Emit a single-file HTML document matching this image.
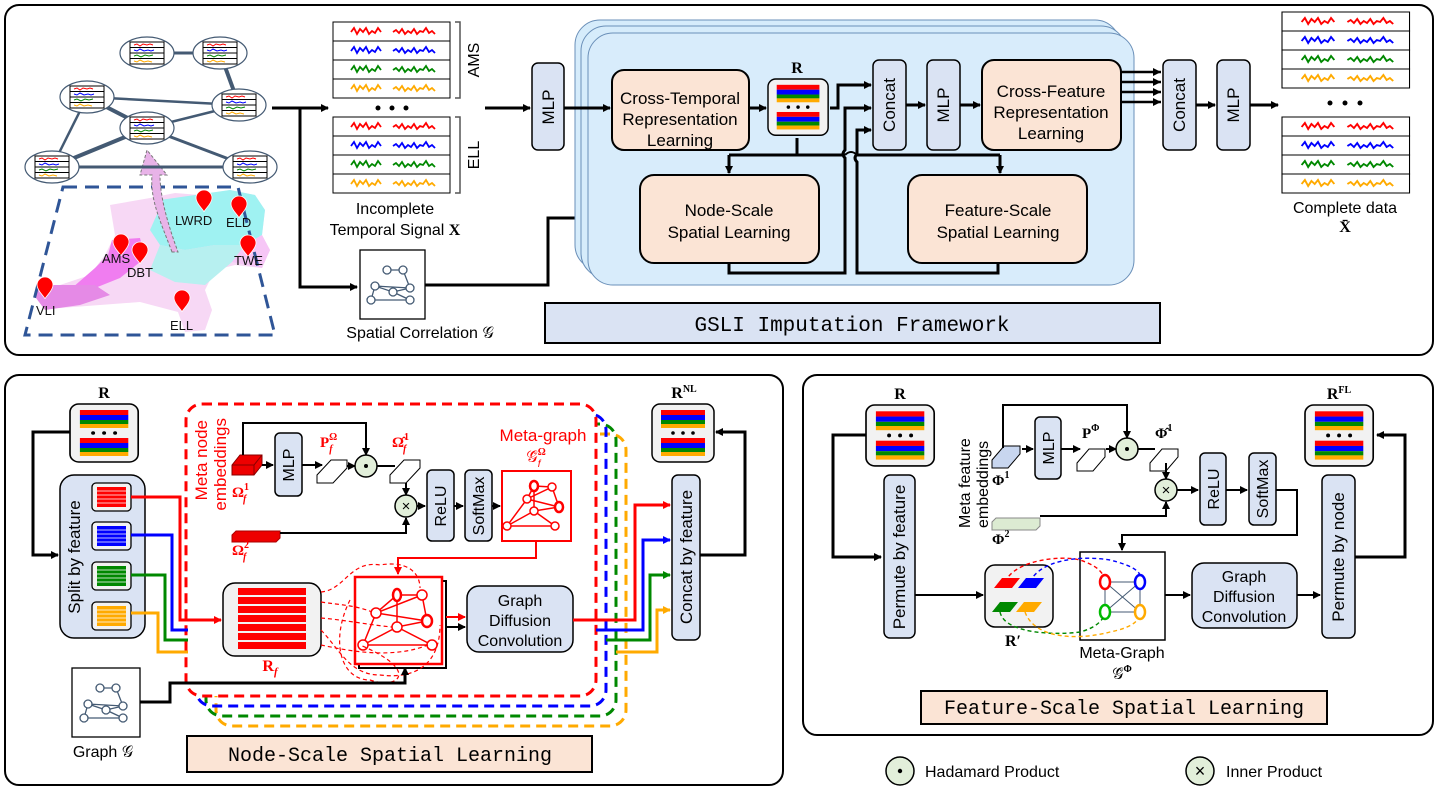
<!DOCTYPE html>
<html><head><meta charset="utf-8"><style>
html,body{margin:0;padding:0;background:#fff}
svg{display:block}
text{font-family:"Liberation Sans",sans-serif}
.mono{font-family:"Liberation Mono",monospace}
.serif{font-family:"Liberation Serif",serif;font-weight:bold}
</style></head><body>
<svg width="1440" height="806" viewBox="0 0 1440 806" xmlns="http://www.w3.org/2000/svg">
<defs>
<marker id="a" markerWidth="8" markerHeight="8" refX="7" refY="4" orient="auto" markerUnits="userSpaceOnUse"><path d="M0,0 L8,4 L0,8z" fill="#000"/></marker>
<marker id="ar" markerWidth="8" markerHeight="8" refX="7" refY="4" orient="auto" markerUnits="userSpaceOnUse"><path d="M0,0 L8,4 L0,8z" fill="#f00"/></marker>
<path id="sq" d="M0,6 l3,-4 l3,6 l3,-5 l3,3 l3,-4 l3,6 l3,-3 l3,2 l3,-5 l3,4 m12,0 l3,-2 l3,3 l3,-4 l3,5 l3,-3 l3,2 l3,-4 l3,5 l3,-3 l3,1 l3,-4 l3,5 l3,-2 l3,3" fill="none" stroke-width="1.8"/>
<g id="ricon">
<rect x="0" y="0" width="62" height="58" rx="8" fill="#f2f2f2" stroke="#000" stroke-width="1.5"/>
<rect x="9" y="6" width="44" height="5" fill="#f00"/><rect x="9" y="11" width="44" height="5" fill="#00f"/><rect x="9" y="16" width="44" height="4" fill="#080"/><rect x="9" y="20" width="44" height="4" fill="#fa0"/>
<circle cx="21" cy="29" r="1.8"/><circle cx="31" cy="29" r="1.8"/><circle cx="41" cy="29" r="1.8"/>
<rect x="9" y="34" width="44" height="5" fill="#f00"/><rect x="9" y="39" width="44" height="5" fill="#00f"/><rect x="9" y="44" width="44" height="4" fill="#080"/><rect x="9" y="48" width="44" height="4" fill="#fa0"/>
</g>
<g id="sig">
<rect x="0" y="0" width="117" height="19" fill="#fff" stroke="#000"/><use href="#sq" x="18" y="4" stroke="#f00"/>
<rect x="0" y="19" width="117" height="19" fill="#fff" stroke="#000"/><use href="#sq" x="18" y="23" stroke="#00f"/>
<rect x="0" y="38" width="117" height="19" fill="#fff" stroke="#000"/><use href="#sq" x="18" y="42" stroke="#080"/>
<rect x="0" y="57" width="117" height="19" fill="#fff" stroke="#000"/><use href="#sq" x="18" y="61" stroke="#fa0"/>
</g>
<g id="gico" fill="#fff" stroke="#445a73" stroke-width="1.3">
<path d="M22,12 L38,12 L45,30 M10,28 L45,30 M10,28 L28,34 L45,30 M10,28 L6,42 L45,42 M28,34 L45,42 M10,28 L28,34" fill="none"/>
<circle cx="22" cy="12" r="4"/><circle cx="38" cy="12" r="4"/><circle cx="10" cy="28" r="4"/><circle cx="45" cy="30" r="4"/><circle cx="28" cy="34" r="4"/><circle cx="6" cy="42" r="4"/><circle cx="45" cy="42" r="4"/>
</g>
<g id="mini">
<ellipse cx="0" cy="0" rx="27" ry="16" fill="#fff" stroke="#445a73" stroke-width="1.2"/>
<rect x="-17" y="-11" width="34" height="22" fill="#fff" stroke="#000"/>
<path d="M-17,-5.5h34M-17,0h34M-17,5.5h34" stroke="#000"/>
<path d="M-13,-8 l3,-1 l3,2 l3,-2 l4,1 l3,-1 l3,1" stroke="#f00" fill="none"/>
<path d="M-13,-3 l3,1 l3,-2 l4,2 l4,-1 l3,1 l3,-1" stroke="#00f" fill="none"/>
<path d="M-13,3 l3,-1 l4,2 l4,-2 l4,1 l4,-1" stroke="#080" fill="none"/>
<path d="M-13,8 l3,1 l3,-2 l4,2 l4,-1 l4,1" stroke="#fa0" fill="none"/>
</g>
</defs>

<!-- ================= TOP PANEL ================= -->
<rect x="5" y="5" width="1428" height="350" rx="14" fill="#fff" stroke="#000" stroke-width="2"/>

<!-- map -->
<path d="M110,205 L150,198 L175,193 L200,195 L230,190 L255,195 L265,210 L262,235 L270,250 L262,268 L235,265 L215,270 L205,290 L212,310 L205,330 L185,332 L178,312 L140,302 L100,305 L60,308 L40,300 L60,285 L90,275 L105,255 L115,235 Z" fill="#f7d8f5"/>
<path d="M160,200 L230,190 L255,195 L265,210 L262,235 L245,245 L215,245 L185,250 L160,245 L150,230 L158,212Z" fill="#9ff2f2"/>
<path d="M160,245 L185,250 L215,245 L245,245 L232,262 L205,285 L175,282 L150,270Z" fill="#b7f0f0"/>
<path d="M112,240 L140,238 L145,258 L120,278 L95,288 L72,288 L95,268 L108,255Z" fill="#f07df0"/>
<path d="M38,285 L95,285 L110,295 L80,305 L45,310 L36,298Z" fill="#e58ae6"/>
<path d="M245,245 L262,235 L270,250 L262,268 L232,262Z" fill="#f6c6f6"/>
<path d="M63,187 L238,187 L275,335 L25,335 Z" fill="none" stroke="#2f5597" stroke-width="3" stroke-dasharray="14,8"/>
<path d="M172,252 C160,220 150,200 152,175 L140,175 L147,150 L167,175 L160,175 C160,200 170,230 178,252Z" fill="#e8b3e8" stroke="#777" stroke-dasharray="3,2"/>
<g fill="#f00" stroke="#fff" stroke-width="0.8">
<path d="M196,198 a8,8 0 1,1 16,0 c0,6 -8,12 -8,14 c0,-2 -8,-8 -8,-14z"/>
<path d="M231,204 a8,8 0 1,1 16,0 c0,6 -8,12 -8,14 c0,-2 -8,-8 -8,-14z"/>
<path d="M113,242 a8,8 0 1,1 16,0 c0,6 -8,12 -8,14 c0,-2 -8,-8 -8,-14z"/>
<path d="M132,250 a8,8 0 1,1 16,0 c0,6 -8,12 -8,14 c0,-2 -8,-8 -8,-14z"/>
<path d="M240,243 a8,8 0 1,1 16,0 c0,6 -8,12 -8,14 c0,-2 -8,-8 -8,-14z"/>
<path d="M37,285 a8,8 0 1,1 16,0 c0,6 -8,12 -8,14 c0,-2 -8,-8 -8,-14z"/>
<path d="M174,298 a8,8 0 1,1 16,0 c0,6 -8,12 -8,14 c0,-2 -8,-8 -8,-14z"/>
</g>
<g font-size="13" fill="#111">
<text x="175" y="225">LWRD</text><text x="226" y="227">ELD</text><text x="102" y="263">AMS</text><text x="127" y="277">DBT</text><text x="234" y="265">TWE</text><text x="36" y="315">VLI</text><text x="170" y="330">ELL</text>
</g>
<g stroke="#445a73" fill="none">
<path d="M147,53 L220,53" stroke-width="3"/>
<path d="M220,53 L239,105" stroke-width="4"/>
<path d="M87,97 L239,105" stroke-width="2.5"/>
<path d="M87,97 L147,128" stroke-width="4"/>
<path d="M147,128 L239,105" stroke-width="2.5"/>
<path d="M87,97 L52,167" stroke-width="2.5"/>
<path d="M147,128 L52,167" stroke-width="4"/>
<path d="M147,128 L250,167" stroke-width="3"/>
<path d="M52,167 L250,167" stroke-width="3"/>
</g>
<use href="#mini" x="147" y="53"/><use href="#mini" x="220" y="53"/><use href="#mini" x="87" y="97"/><use href="#mini" x="239" y="105"/><use href="#mini" x="147" y="128"/><use href="#mini" x="52" y="167"/><use href="#mini" x="250" y="167"/>

<g stroke="#000" stroke-width="3" fill="none">
<path d="M272,108 L328,108" marker-end="url(#a)"/>
<path d="M300,108 L300,287 L357,287" marker-end="url(#a)"/>
</g>
<use href="#sig" x="333" y="22"/>
<circle cx="378" cy="108" r="2.5"/><circle cx="392" cy="108" r="2.5"/><circle cx="406" cy="108" r="2.5"/>
<use href="#sig" x="333" y="117"/>
<path d="M455,22 h5 v76 h-5 M455,117 h5 v76 h-5" stroke="#555" fill="none" stroke-width="1.5"/>
<text font-size="16" transform="translate(479,60) rotate(-90)" text-anchor="middle">AMS</text>
<text font-size="16" transform="translate(479,155) rotate(-90)" text-anchor="middle">ELL</text>
<text x="395" y="214" font-size="16" text-anchor="middle">Incomplete</text>
<text x="395" y="235" font-size="16" text-anchor="middle">Temporal Signal <tspan class="serif">X</tspan></text>
<rect x="360" y="250" width="65" height="69" fill="#fff" stroke="#000" stroke-width="1.3"/>
<use href="#gico" x="365" y="258"/>
<text x="420" y="338" font-size="16" text-anchor="middle">Spatial Correlation 𝒢</text>
<path d="M425,285 L548,285 L548,218 L638,218" stroke="#000" stroke-width="3" fill="none" marker-end="url(#a)"/>
<path d="M485,108 L530,108" stroke="#000" stroke-width="3" marker-end="url(#a)"/>
<rect x="532" y="63" width="32" height="87" rx="6" fill="#dae3f3" stroke="#000" stroke-width="1.5"/>
<text font-size="17" transform="translate(554,107) rotate(-90)" text-anchor="middle">MLP</text>

<rect x="575" y="20" width="545" height="250" rx="25" fill="#d6ecfb" stroke="#6a8fb8"/>
<rect x="581" y="26" width="545" height="252" rx="25" fill="#d6ecfb" stroke="#6a8fb8"/>
<rect x="588" y="33" width="546" height="252" rx="25" fill="#d8ecfb" stroke="#6a8fb8"/>
<path d="M564,108 L610,108" stroke="#000" stroke-width="3" marker-end="url(#a)"/>
<rect x="612" y="70" width="137" height="80" rx="12" fill="#fbe4d5" stroke="#000" stroke-width="2"/>
<text x="680" y="104" font-size="17" text-anchor="middle">Cross-Temporal</text>
<text x="680" y="125" font-size="17" text-anchor="middle">Representation</text>
<text x="680" y="146" font-size="17" text-anchor="middle">Learning</text>
<path d="M749,108 L766,108" stroke="#000" stroke-width="3" marker-end="url(#a)"/>
<use href="#ricon" x="768" y="79" transform="translate(768,79) scale(0.97) translate(-768,-79)"/>
<text x="797" y="73" font-size="16" class="serif" text-anchor="middle">R</text>
<rect x="873" y="60" width="33" height="90" rx="6" fill="#dae3f3" stroke="#000" stroke-width="1.5"/>
<text font-size="17" transform="translate(895,105) rotate(-90)" text-anchor="middle">Concat</text>
<rect x="927" y="60" width="33" height="90" rx="6" fill="#dae3f3" stroke="#000" stroke-width="1.5"/>
<text font-size="17" transform="translate(949,105) rotate(-90)" text-anchor="middle">MLP</text>
<rect x="982" y="60" width="139" height="90" rx="12" fill="#fbe4d5" stroke="#000" stroke-width="2"/>
<text x="1051" y="97" font-size="17" text-anchor="middle">Cross-Feature</text>
<text x="1051" y="118" font-size="17" text-anchor="middle">Representation</text>
<text x="1051" y="139" font-size="17" text-anchor="middle">Learning</text>
<rect x="640" y="175" width="179" height="88" rx="14" fill="#fbe4d5" stroke="#000" stroke-width="2"/>
<text x="729" y="216" font-size="17" text-anchor="middle">Node-Scale</text>
<text x="729" y="238" font-size="17" text-anchor="middle">Spatial Learning</text>
<rect x="908" y="175" width="179" height="88" rx="14" fill="#fbe4d5" stroke="#000" stroke-width="2"/>
<text x="998" y="216" font-size="17" text-anchor="middle">Feature-Scale</text>
<text x="998" y="238" font-size="17" text-anchor="middle">Spatial Learning</text>
<g stroke="#000" stroke-width="3" fill="none">
<path d="M830,108 L838,108 L838,85 L871,85" marker-end="url(#a)"/>
<path d="M797,138 L797,155"/>
<path d="M729,155 L845,155 M857,155 L1000,155"/>
<path d="M845,155 q6,-6 12,0" stroke-width="2"/>
<path d="M729,155 L729,173" marker-end="url(#a)"/>
<path d="M1000,155 L1000,173" marker-end="url(#a)"/>
<path d="M729,263 L729,273 L845,273 L845,158 q-4,-4 0,-8 L845,108 L871,108" marker-end="url(#a)"/>
<path d="M998,263 L998,273 L857,273 L857,162 q-4,-4 0,-8 L857,130 L871,130" marker-end="url(#a)"/>
<path d="M906,105 L925,105" marker-end="url(#a)"/>
<path d="M960,105 L980,105" marker-end="url(#a)"/>
<path d="M1121,72 L1161,72 M1121,82 L1161,82 M1121,92 L1161,92 M1121,102 L1161,102" stroke-width="2.5"/>
</g>
<path d="M1153,68 l8,4 l-8,4z M1153,78 l8,4 l-8,4z M1153,88 l8,4 l-8,4z M1153,98 l8,4 l-8,4z"/>
<rect x="1163" y="60" width="33" height="90" rx="6" fill="#dae3f3" stroke="#000" stroke-width="1.5"/>
<text font-size="17" transform="translate(1185,105) rotate(-90)" text-anchor="middle">Concat</text>
<rect x="1217" y="60" width="33" height="90" rx="6" fill="#dae3f3" stroke="#000" stroke-width="1.5"/>
<text font-size="17" transform="translate(1239,105) rotate(-90)" text-anchor="middle">MLP</text>
<path d="M1196,105 L1215,105" stroke="#000" stroke-width="3" marker-end="url(#a)"/>
<path d="M1250,105 L1278,105" stroke="#000" stroke-width="3" marker-end="url(#a)"/>
<g transform="translate(1282,12) scale(1.09,1)"><use href="#sig"/></g>
<circle cx="1330" cy="103" r="2.5"/><circle cx="1345" cy="103" r="2.5"/><circle cx="1360" cy="103" r="2.5"/>
<g transform="translate(1282,117) scale(1.09,1)"><use href="#sig"/></g>
<text x="1345" y="213" font-size="16" text-anchor="middle">Complete data</text>
<text x="1345" y="232" font-size="16" class="serif" text-anchor="middle">X̄</text>
<rect x="545" y="303" width="615" height="40" fill="#dae3f3" stroke="#000" stroke-width="2"/>
<text x="852" y="331" font-size="21" class="mono" text-anchor="middle">GSLI Imputation Framework</text>

<!-- ================= BOTTOM LEFT ================= -->
<rect x="5" y="375" width="778" height="410" rx="14" fill="#fff" stroke="#000" stroke-width="2"/>
<use href="#ricon" x="70" y="404" transform="translate(70,404) scale(1.1,1) translate(-70,-404)"/>
<text x="104" y="398" font-size="16" class="serif" text-anchor="middle">R</text>
<path d="M70,432 L33,432 L33,555 L58,555" stroke="#000" stroke-width="3" fill="none" marker-end="url(#a)"/>
<rect x="60" y="475" width="85" height="163" rx="14" fill="#dae3f3" stroke="#000" stroke-width="1.5"/>
<text font-size="17" transform="translate(80,557) rotate(-90)" text-anchor="middle">Split by feature</text>
<g stroke="#000" stroke-width="1.3" fill="#f2f2f2">
<rect x="92" y="483" width="39" height="28" rx="4"/><rect x="92" y="522" width="39" height="28" rx="4"/><rect x="92" y="562" width="39" height="28" rx="4"/><rect x="92" y="602" width="39" height="28" rx="4"/>
</g>
<rect x="97" y="487" width="29" height="20" fill="#f00"/><rect x="97" y="526" width="29" height="20" fill="#00f"/><rect x="97" y="566" width="29" height="20" fill="#080"/><rect x="97" y="606" width="29" height="20" fill="#fa0"/>
<g stroke="#fff" stroke-width="0.8"><path d="M97,491h29M97,495h29M97,499h29M97,503h29M97,530h29M97,534h29M97,538h29M97,542h29M97,570h29M97,574h29M97,578h29M97,582h29M97,610h29M97,614h29M97,618h29M97,622h29"/></g>
<rect x="216" y="434" width="410" height="292" rx="16" fill="none" stroke="#fa0" stroke-width="3" stroke-dasharray="10,6"/>
<rect x="206" y="424" width="410" height="292" rx="16" fill="none" stroke="#080" stroke-width="3" stroke-dasharray="10,6"/>
<rect x="196" y="414" width="410" height="292" rx="16" fill="none" stroke="#00f" stroke-width="3" stroke-dasharray="10,6"/>
<rect x="186" y="404" width="410" height="292" rx="16" fill="#fff" stroke="#f00" stroke-width="3" stroke-dasharray="10,6"/>
<g fill="none" stroke-width="3">
<path d="M131,497 L180,497 L180,620 L221,620" stroke="#f00" marker-end="url(#ar)"/>
<path d="M131,535 L172,535 L172,630 L188,630" stroke="#00f"/>
<path d="M131,575 L165,575 L165,640 L188,640" stroke="#080"/>
<path d="M131,613 L158,613 L158,652 L188,652" stroke="#fa0"/>
</g>
<text font-size="17" fill="#f00" transform="translate(207,420) rotate(-90)" text-anchor="end">Meta node</text>
<text font-size="17" fill="#f00" transform="translate(226,418) rotate(-90)" text-anchor="end">embeddings</text>
<path d="M232,465 l8,-10 h22 v10 l-8,10 h-22z" fill="#e00" stroke="#800"/>
<path d="M232,465 h22 l8,-10 M254,465 v10" stroke="#800" fill="none"/>
<text x="232" y="497" font-size="15" class="serif" fill="#f00">Ω<tspan font-size="10" dy="-7">1</tspan><tspan font-size="10" font-style="italic" dx="-6" dy="12">f</tspan></text>
<path d="M232,535 l4,-4 h44 v7 l-4,4 h-44z" fill="#e00" stroke="#a00"/>
<text x="232" y="555" font-size="15" class="serif" fill="#f00">Ω<tspan font-size="10" dy="-7">2</tspan><tspan font-size="10" font-style="italic" dx="-6" dy="12">f</tspan></text>
<rect x="275" y="433" width="27" height="63" rx="5" fill="#dae3f3" stroke="#000" stroke-width="1.5"/>
<text font-size="16" transform="translate(294,465) rotate(-90)" text-anchor="middle">MLP</text>
<path d="M317,475 l14,-15 h16 v8 l-14,15 h-16z" fill="#fff" stroke="#000"/>
<path d="M390,475 l14,-15 h16 v8 l-14,15 h-16z" fill="#fff" stroke="#000"/>
<text x="320" y="447" font-size="15" class="serif" fill="#f00">P<tspan font-size="10" dy="-7">Ω</tspan><tspan font-size="10" font-style="italic" dx="-8" dy="12">f</tspan></text>
<text x="392" y="447" font-size="15" class="serif" fill="#f00">Ω̂<tspan font-size="10" dy="-7">1</tspan><tspan font-size="10" font-style="italic" dx="-6" dy="12">f</tspan></text>
<g stroke="#000" stroke-width="2" fill="none">
<path d="M243,455 L243,423 L366,423 L366,455" marker-end="url(#a)"/>
<path d="M262,465 L273,465" marker-end="url(#a)"/>
<path d="M302,465 L322,465" marker-end="url(#a)"/>
<path d="M347,466 L355,466" marker-end="url(#a)"/>
<path d="M377,466 L395,466"/>
<path d="M406,483 L406,495" marker-end="url(#a)"/>
<path d="M280,533 L406,533 L406,518" marker-end="url(#a)"/>
<path d="M417,506 L425,506" marker-end="url(#a)"/>
<path d="M454,506 L463,506" marker-end="url(#a)"/>
<path d="M492,506 L500,506" marker-end="url(#a)"/>
</g>
<circle cx="366" cy="466" r="11" fill="#e2efda" stroke="#000" stroke-width="1.5"/><circle cx="366" cy="466" r="2"/>
<circle cx="406" cy="506" r="11" fill="#e2efda" stroke="#000" stroke-width="1.5"/><text x="406" y="511" font-size="15" text-anchor="middle">×</text>
<rect x="427" y="470" width="27" height="71" rx="5" fill="#dae3f3" stroke="#000" stroke-width="1.5"/>
<text font-size="16" transform="translate(446,506) rotate(-90)" text-anchor="middle">ReLU</text>
<rect x="465" y="470" width="27" height="71" rx="5" fill="#dae3f3" stroke="#000" stroke-width="1.5"/>
<text font-size="16" transform="translate(484,506) rotate(-90)" text-anchor="middle">SoftMax</text>
<rect x="502" y="471" width="69" height="70" fill="#fff" stroke="#f00" stroke-width="2"/>
<g stroke="#f00" stroke-width="1.5" fill="#fff">
<path d="M534,486 L552,487 L527,499 L507,526 L555,526 M534,486 L534,511 L559,507 L552,487 M527,499 L559,507 M534,511 L555,526 M534,486 L527,499 M507,526 L534,511" fill="none"/>
<ellipse cx="534" cy="486" rx="4" ry="5" stroke-width="2.5"/><circle cx="552" cy="487" r="4"/><circle cx="527" cy="499" r="4"/><ellipse cx="559" cy="507" rx="4" ry="5" stroke-width="2.5"/><circle cx="534" cy="511" r="4"/><circle cx="507" cy="526" r="4"/><circle cx="555" cy="526" r="4"/>
</g>
<text x="543" y="441" font-size="17" fill="#f00" text-anchor="middle">Meta-graph</text>
<text x="536" y="462" font-size="16" fill="#f00" text-anchor="middle">𝒢̇<tspan font-size="10" dy="-7" class="serif">Ω</tspan><tspan font-size="10" font-style="italic" dx="-8" dy="12">f</tspan></text>
<path d="M536,541 L536,558 L398,558 L398,574" stroke="#f00" stroke-width="2" fill="none" marker-end="url(#ar)"/>
<rect x="223" y="583" width="98" height="73" rx="12" fill="#f2f2f2" stroke="#000" stroke-width="1.5"/>
<g fill="#f00"><rect x="238" y="588" width="68" height="7"/><rect x="238" y="597" width="68" height="7"/><rect x="238" y="606" width="68" height="7"/><rect x="238" y="615" width="68" height="7"/><rect x="238" y="624" width="68" height="7"/><rect x="238" y="633" width="68" height="7"/><rect x="238" y="642" width="68" height="7"/></g>
<text x="270" y="671" font-size="16" class="serif" fill="#f00" text-anchor="middle">R<tspan font-size="11" font-style="italic" dy="4">f</tspan></text>
<rect x="359" y="581" width="87" height="87" fill="none" stroke="#000" stroke-width="2"/>
<rect x="355" y="577" width="87" height="87" fill="#fff" stroke="#f00" stroke-width="2.5"/>
<g stroke="#f00" stroke-width="1.5" fill="#fff">
<path d="M397,595 L422,595 L376,613 L363,645 L432,645 M397,595 L397,627 L427,621 L422,595 M376,613 L427,621 M397,627 L432,645 M397,595 L376,613 M363,645 L397,627" fill="none"/>
<ellipse cx="397" cy="595" rx="4" ry="6" stroke-width="2.5"/><circle cx="422" cy="595" r="5"/><circle cx="376" cy="613" r="5"/><ellipse cx="427" cy="621" rx="5" ry="6" stroke-width="2.5"/><circle cx="397" cy="627" r="5"/><circle cx="363" cy="645" r="5"/><circle cx="432" cy="645" r="5"/>
</g>
<g stroke="#f00" stroke-width="1.2" fill="none" stroke-dasharray="4,3">
<path d="M321,592 C345,590 350,560 380,565 C410,560 420,575 420,588"/>
<path d="M321,602 C340,605 355,605 372,612"/>
<path d="M321,618 C345,620 370,625 392,627"/>
<path d="M321,630 C340,650 350,675 380,675 C420,680 440,660 440,625"/>
<path d="M321,645 C345,650 390,660 428,645"/>
<path d="M350,600 C330,640 340,680 370,680 C400,690 420,670 360,645"/>
</g>
<rect x="467" y="586" width="106" height="66" rx="12" fill="#dae3f3" stroke="#000" stroke-width="1.5"/>
<text x="520" y="606" font-size="16" text-anchor="middle">Graph</text>
<text x="520" y="626" font-size="16" text-anchor="middle">Diffusion</text>
<text x="520" y="646" font-size="16" text-anchor="middle">Convolution</text>
<path d="M446,617 L465,617" stroke="#f00" stroke-width="2" marker-end="url(#ar)"/>
<path d="M446,627 L465,627" stroke="#000" stroke-width="2" marker-end="url(#a)"/>
<rect x="72" y="668" width="68" height="69" fill="#fff" stroke="#000" stroke-width="1.3"/>
<use href="#gico" x="78" y="676"/>
<text x="103" y="757" font-size="16" text-anchor="middle">Graph 𝒢</text>
<path d="M140,702 L170,702 L170,683 L405,683 L405,668" stroke="#000" stroke-width="3" fill="none" marker-end="url(#a)"/>
<g fill="none" stroke-width="3">
<path d="M573,620 L635,620 L635,505 L670,505" stroke="#f00" marker-end="url(#ar)"/>
<path d="M596,630 L643,630 L643,540 L670,540" stroke="#00f"/>
<path d="M606,640 L650,640 L650,575 L670,575" stroke="#080"/>
<path d="M616,652 L657,652 L657,610 L670,610" stroke="#fa0"/>
</g>
<path d="M663,536 l8,4 l-8,4z" fill="#00f"/><path d="M663,571 l8,4 l-8,4z" fill="#080"/><path d="M663,606 l8,4 l-8,4z" fill="#fa0"/>
<rect x="672" y="475" width="28" height="165" rx="6" fill="#dae3f3" stroke="#000" stroke-width="1.5"/>
<text font-size="17" transform="translate(692,557) rotate(-90)" text-anchor="middle">Concat  by feature</text>
<use href="#ricon" x="652" y="404"/>
<text x="684" y="398" font-size="16" class="serif" text-anchor="middle">R<tspan font-size="10" dy="-6">NL</tspan></text>
<path d="M700,555 L745,555 L745,432 L716,432" stroke="#000" stroke-width="3" fill="none" marker-end="url(#a)"/>
<rect x="187" y="736" width="405" height="36" fill="#fbe4d5" stroke="#000" stroke-width="2"/>
<text x="390" y="761" font-size="20" class="mono" text-anchor="middle">Node-Scale Spatial Learning</text>

<!-- ================= BOTTOM RIGHT ================= -->
<rect x="803" y="375" width="630" height="360" rx="14" fill="#fff" stroke="#000" stroke-width="2"/>
<use href="#ricon" x="866" y="405" transform="translate(866,405) scale(1.1,1.05) translate(-866,-405)"/>
<text x="900" y="399" font-size="16" class="serif" text-anchor="middle">R</text>
<path d="M866,435 L833,435 L833,557 L881,557" stroke="#000" stroke-width="3" fill="none" marker-end="url(#a)"/>
<rect x="884" y="475" width="31" height="163" rx="6" fill="#dae3f3" stroke="#000" stroke-width="1.5"/>
<text font-size="17" transform="translate(905,557) rotate(-90)" text-anchor="middle">Permute  by feature</text>
<text font-size="16" transform="translate(970,528) rotate(-90)" text-anchor="start">Meta feature</text>
<text font-size="16" transform="translate(988,528) rotate(-90)" text-anchor="start">embeddings</text>
<path d="M992,460 l12,-14 h16 v8 l-12,14 h-16z" fill="#c8d6ef" stroke="#000"/>
<text x="992" y="485" font-size="15" class="serif">Φ<tspan font-size="10" dy="-7">1</tspan></text>
<path d="M992,522 l4,-4 h44 v8 l-4,4 h-44z" fill="#dcebd2" stroke="#888"/>
<text x="992" y="544" font-size="15" class="serif">Φ<tspan font-size="10" dy="-7">2</tspan></text>
<rect x="1035" y="417" width="26" height="62" rx="5" fill="#dae3f3" stroke="#000" stroke-width="1.5"/>
<text font-size="16" transform="translate(1054,448) rotate(-90)" text-anchor="middle">MLP</text>
<path d="M1077,463 l12,-14 h16 v8 l-12,14 h-16z" fill="#fff" stroke="#000"/>
<path d="M1150,463 l12,-14 h16 v8 l-12,14 h-16z" fill="#fff" stroke="#000"/>
<text x="1082" y="438" font-size="15" class="serif">P<tspan font-size="10" dy="-7">Φ</tspan></text>
<text x="1155" y="438" font-size="15" class="serif">Φ̂<tspan font-size="10" dy="-7">1</tspan></text>
<g stroke="#000" stroke-width="2" fill="none">
<path d="M1003,448 L1003,405 L1127,405 L1127,438" marker-end="url(#a)"/>
<path d="M1022,449 L1033,449" marker-end="url(#a)"/>
<path d="M1061,449 L1080,449" marker-end="url(#a)"/>
<path d="M1106,449 L1116,449" marker-end="url(#a)"/>
<path d="M1138,449 L1155,449"/>
<path d="M1166,463 L1166,479" marker-end="url(#a)"/>
<path d="M1040,516 L1166,516 L1166,502" marker-end="url(#a)"/>
<path d="M1177,490 L1198,490" marker-end="url(#a)"/>
<path d="M1226,490 L1247,490" marker-end="url(#a)"/>
<path d="M1276,490 L1297,490 L1297,535 L1122,535 L1122,550" marker-end="url(#a)"/>
<path d="M915,595 L983,595" marker-end="url(#a)"/>
<path d="M1165,595 L1190,595" marker-end="url(#a)"/>
<path d="M1297,595 L1320,595" marker-end="url(#a)"/>
</g>
<circle cx="1127" cy="449" r="11" fill="#e2efda" stroke="#000" stroke-width="1.5"/><circle cx="1127" cy="449" r="2"/>
<circle cx="1166" cy="490" r="11" fill="#e2efda" stroke="#000" stroke-width="1.5"/><text x="1166" y="495" font-size="15" text-anchor="middle">×</text>
<rect x="1200" y="453" width="26" height="72" rx="5" fill="#dae3f3" stroke="#000" stroke-width="1.5"/>
<text font-size="16" transform="translate(1219,489) rotate(-90)" text-anchor="middle">ReLU</text>
<rect x="1249" y="453" width="27" height="72" rx="5" fill="#dae3f3" stroke="#000" stroke-width="1.5"/>
<text font-size="16" transform="translate(1268,489) rotate(-90)" text-anchor="middle">SoftMax</text>
<rect x="985" y="565" width="68" height="62" rx="10" fill="#f2f2f2" stroke="#000" stroke-width="1.5"/>
<path d="M994,588 l8,-10 h18 l-8,10z" fill="#f00"/><path d="M1018,588 l8,-10 h18 l-8,10z" fill="#00f"/>
<path d="M992,612 l8,-10 h18 l-8,10z" fill="#080"/><path d="M1016,612 l8,-10 h18 l-8,10z" fill="#fa0"/>
<text x="1013" y="646" font-size="16" class="serif" text-anchor="middle">R′</text>
<rect x="1080" y="552" width="85" height="88" fill="#fff" stroke="#000" stroke-width="1.5"/>
<path d="M1105,582 L1140,582 L1140,612 L1105,612Z M1105,582 L1140,612 M1140,582 L1105,612" stroke="#445a73" fill="none"/>
<ellipse cx="1105" cy="582" rx="5" ry="7" fill="#fff" stroke="#f00" stroke-width="2.5"/>
<ellipse cx="1140" cy="582" rx="5" ry="7" fill="#fff" stroke="#00f" stroke-width="2.5"/>
<ellipse cx="1105" cy="612" rx="5" ry="7" fill="#fff" stroke="#0b0" stroke-width="2.5"/>
<ellipse cx="1140" cy="612" rx="5" ry="7" fill="#fff" stroke="#fa0" stroke-width="2.5"/>
<g fill="none" stroke-width="1.4" stroke-dasharray="4,3">
<path d="M1005,582 C1015,560 1060,555 1080,560 C1095,565 1100,570 1103,575" stroke="#f00"/>
<path d="M1030,582 C1040,560 1080,555 1110,560 C1130,565 1138,570 1140,575" stroke="#00f"/>
<path d="M1000,612 C1005,635 1060,635 1080,632 C1095,628 1100,622 1103,618" stroke="#080"/>
<path d="M1025,612 C1035,640 1080,640 1110,632 C1130,628 1137,622 1138,618" stroke="#fa0"/>
</g>
<text x="1122" y="658" font-size="16" text-anchor="middle">Meta-Graph</text>
<text x="1122" y="679" font-size="16" text-anchor="middle">𝒢̇<tspan font-size="10" dy="-7" class="serif">Φ</tspan></text>
<rect x="1192" y="563" width="105" height="65" rx="12" fill="#dae3f3" stroke="#000" stroke-width="1.5"/>
<text x="1244" y="582" font-size="16" text-anchor="middle">Graph</text>
<text x="1244" y="602" font-size="16" text-anchor="middle">Diffusion</text>
<text x="1244" y="622" font-size="16" text-anchor="middle">Convolution</text>
<rect x="1322" y="475" width="33" height="163" rx="6" fill="#dae3f3" stroke="#000" stroke-width="1.5"/>
<text font-size="17" transform="translate(1344,557) rotate(-90)" text-anchor="middle">Permute by node</text>
<use href="#ricon" x="1305" y="405" transform="translate(1305,405) scale(1.1,1.05) translate(-1305,-405)"/>
<text x="1339" y="399" font-size="16" class="serif" text-anchor="middle">R<tspan font-size="10" dy="-6">FL</tspan></text>
<path d="M1355,557 L1405,557 L1405,435 L1377,435" stroke="#000" stroke-width="3" fill="none" marker-end="url(#a)"/>
<rect x="921" y="691" width="406" height="33" fill="#fbe4d5" stroke="#000" stroke-width="2"/>
<text x="1124" y="714" font-size="20" class="mono" text-anchor="middle">Feature-Scale Spatial Learning</text>
<circle cx="900" cy="771" r="14" fill="#e2efda" stroke="#000" stroke-width="1.5"/><circle cx="900" cy="771" r="2.2"/>
<text x="925" y="777" font-size="16">Hadamard Product</text>
<circle cx="1200" cy="771" r="14" fill="#e2efda" stroke="#000" stroke-width="1.5"/><text x="1200" y="777" font-size="18" text-anchor="middle">×</text>
<text x="1226" y="777" font-size="16">Inner Product</text>
</svg>
</body></html>
